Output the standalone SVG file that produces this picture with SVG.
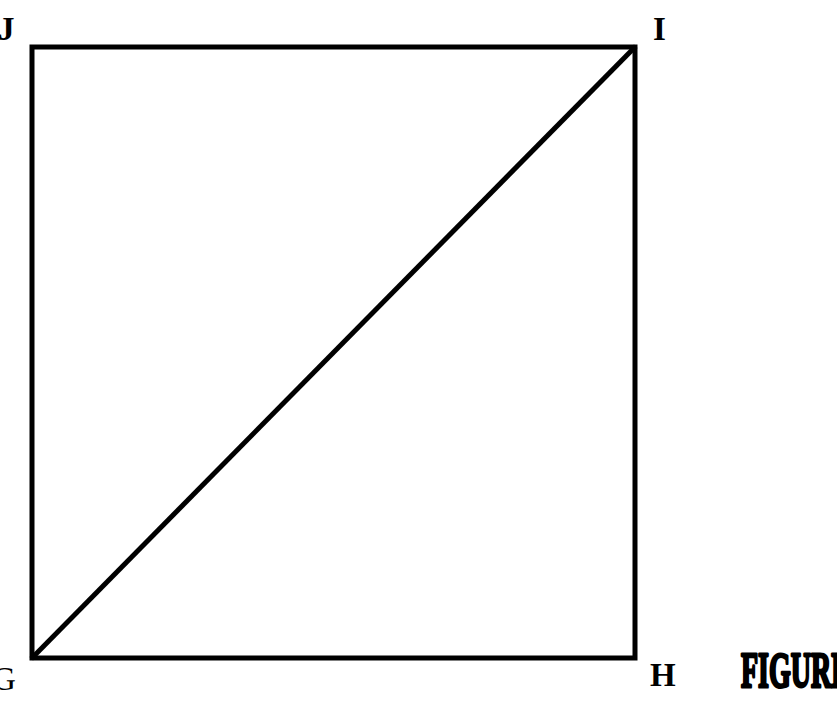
<svg xmlns="http://www.w3.org/2000/svg" width="837" height="719" viewBox="0 0 837 719">
<style>
.lbl{font-family:"Liberation Serif","Times New Roman",serif;font-size:33px;font-weight:bold;fill:#000}
.cap{font-family:"Liberation Serif","Times New Roman",serif;font-size:50px;font-weight:bold;fill:#000;stroke:#000;stroke-width:3;stroke-linejoin:round}
.edge{stroke:#000;stroke-width:5;fill:none;stroke-linejoin:miter;stroke-linecap:square}
</style>
<rect width="837" height="719" fill="#fff"/>
<g id="connectors">
<path class="edge" d="M32,47 L635,47 L635,658 L32,658 Z"/>
<line class="edge" x1="33" y1="657" x2="634" y2="48" stroke-linecap="butt"/>
</g>
<g id="node-J"><text class="lbl" x="-2" y="40">J</text></g>
<g id="node-I"><text class="lbl" x="653" y="40">I</text></g>
<g id="node-G"><text class="lbl" x="-8" y="690" font-weight="normal" style="font-weight:normal">G</text></g>
<g id="node-H"><text class="lbl" x="650" y="686">H</text></g>
<g id="caption"><text class="cap" transform="translate(741,687) scale(0.56,1)">FIGURE</text></g>
</svg>
